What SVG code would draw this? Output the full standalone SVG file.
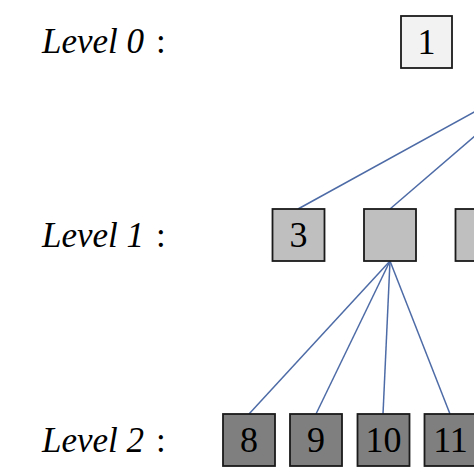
<svg xmlns="http://www.w3.org/2000/svg" width="474" height="474" viewBox="0 0 474 474">
<style>
.box{stroke:#1a1a1a;stroke-width:1.8}
.l0{fill:#f2f2f2}
.l1{fill:#bfbfbf}
.l2{fill:#7f7f7f}
.num{font-family:"Liberation Serif","Times New Roman",serif;font-size:36px;fill:#000;text-anchor:middle}
.lvl{font-family:"Liberation Serif","Times New Roman",serif;font-size:35px;font-style:italic;fill:#000}
.colon{font-style:normal}
.edge{stroke:#4d6ba6;stroke-width:1.5;fill:none}
</style>
<rect width="474" height="474" fill="#ffffff"/>
<g id="labels">
<text class="lvl" x="42" y="53">Level 0 <tspan class="colon" x="156">:</tspan></text>
<text class="lvl" x="42" y="247">Level 1 <tspan class="colon" x="156">:</tspan></text>
<text class="lvl" x="42" y="452">Level 2 <tspan class="colon" x="156">:</tspan></text>
</g>
<g id="connectors">
<line class="edge" x1="298" y1="209" x2="554" y2="68"/>
<line class="edge" x1="390" y1="209" x2="554" y2="68"/>
<line class="edge" x1="390" y1="261" x2="249" y2="414"/>
<line class="edge" x1="390" y1="261" x2="316" y2="414"/>
<line class="edge" x1="390" y1="261" x2="383" y2="414"/>
<line class="edge" x1="390" y1="261" x2="450" y2="414"/>
</g>
<g id="node1"><rect class="box l0" x="401" y="16" width="51" height="52"/><text class="num" x="426.5" y="54">1</text></g>
<g id="node3"><rect class="box l1" x="272.5" y="209" width="52" height="52"/><text class="num" x="298.5" y="247">3</text></g>
<g id="node2"><rect class="box l1" x="364" y="209" width="52" height="52"/></g>
<g id="node4"><rect class="box l1" x="455.5" y="209" width="52" height="52"/></g>
<g id="node8"><rect class="box l2" x="223" y="414" width="52" height="52"/><text class="num" x="249" y="452">8</text></g>
<g id="node9"><rect class="box l2" x="290" y="414" width="52" height="52"/><text class="num" x="316" y="452">9</text></g>
<g id="node10"><rect class="box l2" x="357.5" y="414" width="52" height="52"/><text class="num" x="383.5" y="452">10</text></g>
<g id="node11"><rect class="box l2" x="424.5" y="414" width="52" height="52"/><text class="num" x="450.5" y="452">11</text></g>
</svg>
